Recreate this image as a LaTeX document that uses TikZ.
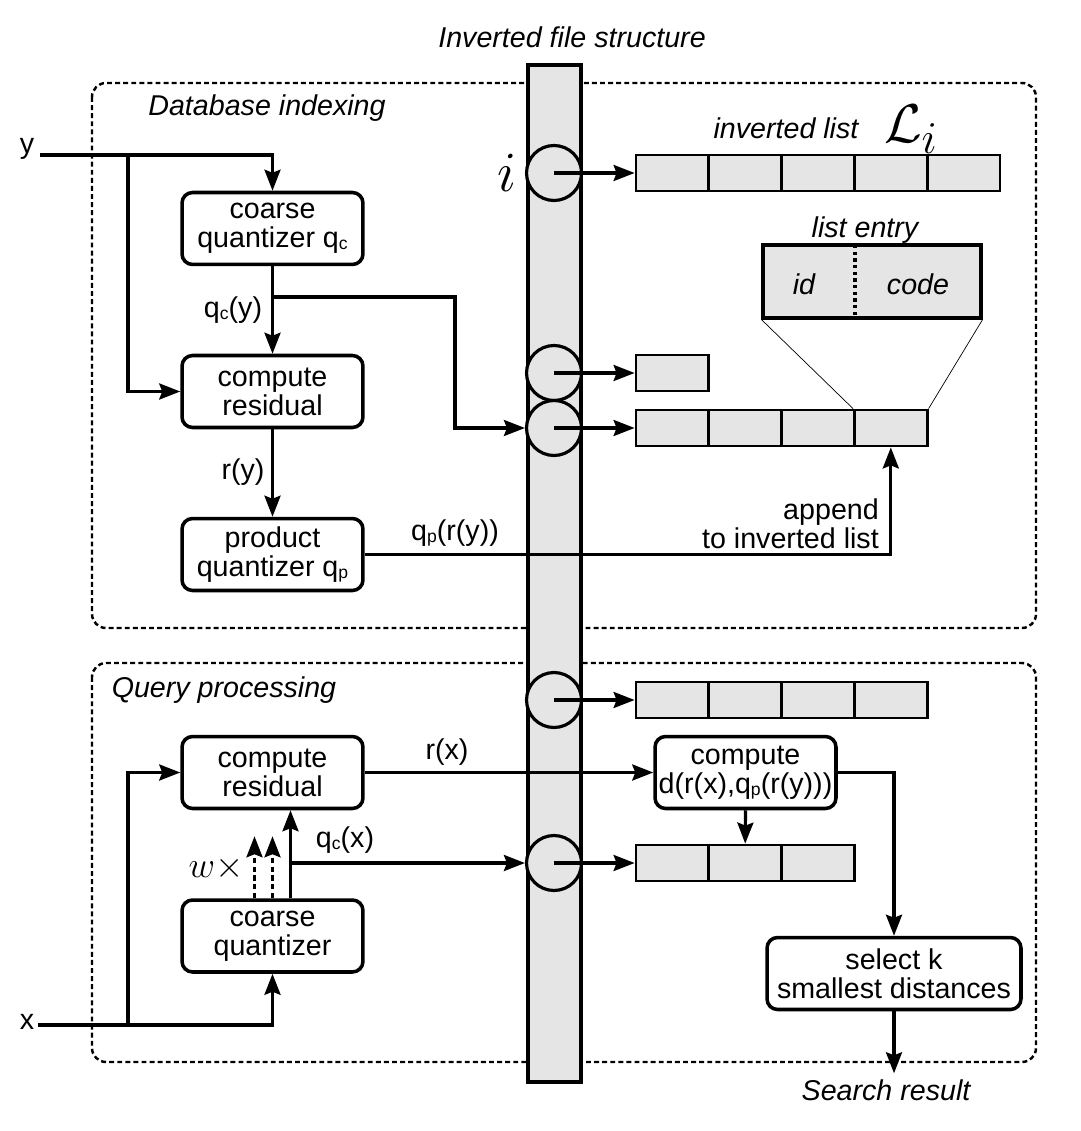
\documentclass[tikz,border=0pt]{standalone}
\usepackage{fontspec}
\setmainfont{Liberation Sans}
\usetikzlibrary{arrows.meta}
\newcommand{\smallsub}[1]{\raisebox{-1pt}{\fontsize{10}{10}\selectfont #1}}
\tikzset{
  box/.style={draw, line width=2pt, rounded corners=6pt, minimum width=3.62cm, minimum height=1.44cm, align=center, inner sep=0pt},
  cell/.style={draw, line width=1.6pt, fill=gray!20, minimum width=1.456cm, minimum height=0.72cm, inner sep=0pt},
  slot/.style={circle, draw, line width=1.8pt, fill=gray!20, minimum size=1.1cm, inner sep=0pt},
  flow/.style={line width=1.8pt, -{Stealth[length=0.42cm, width=0.32cm, inset=0.06cm]}},
  region/.style={line width=1.4pt, dash pattern=on 2.8pt off 1.8pt, rounded corners=8pt},
  title/.style={font=\fontsize{16.3}{17}\selectfont\itshape}
}
\begin{document}
\begin{tikzpicture}[x=0.02cm, y=-0.02cm, font=\fontsize{16.3}{16.6}\selectfont]
\useasboundingbox (0,0) rectangle (1080,1131);
% the two stages
\draw[region] (92,83) rectangle (1036,628);
\draw[region] (92,663) rectangle (1036,1062);
\node[title] (dbtitle) at (267,108) {Database indexing};
\node[title] (qptitle) at (224,690) {Query processing};

% inverted file and its lists
\draw[line width=1.8pt, fill=gray!20] (528,65) rectangle (581,1082);
\node[title] (iftitle) at (572,37) {Inverted file structure};
\foreach \n/\y/\k in {1/173/5, 2/373/1, 3/428/4, 4/700/4, 5/863/3} {
  \node[slot] (s\n) at (554,\y) {};
  \foreach \c in {1,...,\k}
    \node[cell] (l\n-\c) at ({636+72.8*(\c-0.5)},\y) {};
  \draw[flow] (s\n.center) -- (l\n-1.west);
}
\node (ilbl) at (507,173) {\scalebox{1.3}{\fontsize{24.88}{25}\selectfont$i$}};
\node[title] (ltitle) at (786,128) {inverted list};
\node (lsym) at (911,129) {\scalebox{1.25}{\fontsize{24.88}{25}\selectfont$\mathcal{L}_i$}};
\node[title] (etitle) at (865,230) {list entry};
\node[draw, line width=1.8pt, fill=gray!20, minimum width=4.36cm, minimum height=1.46cm, inner sep=0pt] (ent) at (872,281.5) {};
\draw[line width=1.8pt, dotted] (855,245) -- (855,318);
\node[title] (idlbl) at (804,284) {id};
\node[title] (codelbl) at (918,284) {code};
\draw[thin] (ent.south west) -- (l3-4.north west);
\draw[thin] (ent.south east) -- (l3-4.north east);

% database indexing
\node[box] (cq) at (272.5,228.5) {coarse\\quantizer q\smallsub{c}};
\node[box] (cr) at (272.5,391.5) {compute\\residual};
\node[box] (pq) at (272.5,554.5) {product\\quantizer q\smallsub{p}};
\node (yin) at (27,149) {y};
\coordinate (ystart) at (40,155);
\coordinate (ysplit) at (128,155);
\draw[flow] (ystart) -| (cq.north);
\draw[flow] (ysplit) |- (cr.west);
\draw[flow] (cq.south) -- (cr.north);
\coordinate (qcy) at (272.5,297);
\coordinate (qcbend) at (455,428);
\draw[flow] (qcy) -| (qcbend) -- (s3.west);
\draw[flow] (cr.south) -- (pq.north);
\draw[flow] (pq.east) -| (l3-4.south);
\node (qcylbl) at (233,310) {q\smallsub{c}(y)};
\node (rylbl) at (243,472) {r(y)};
\node (qprylbl) at (455,533) {q\smallsub{p}(r(y))};
\node[align=right, anchor=east] (applbl) at (885,524) {append\\to inverted list};

% query processing
\node[box] (cr2) at (272.5,772.5) {compute\\residual};
\node[box] (cq2) at (272.5,936) {coarse\\quantizer};
\node[box] (cd) at (745.5,772.5) {compute\\d(r(x),q\smallsub{p}(r(y)))};
\node[box, minimum width=5.08cm] (sel) at (894,973.5) {select k\\smallest distances};
\node (xin) at (27,1022) {x};
\coordinate (xstart) at (38,1025);
\coordinate (xsplit) at (128,1025);
\draw[flow] (xstart) -| (cq2.south);
\draw[flow] (xsplit) |- (cr2.west);
\draw[flow] ([xshift=0.36cm]cq2.north) -- ([xshift=0.36cm]cr2.south);
\foreach \dx in {-0.36,0}
  \draw[flow, dash pattern=on 3pt off 2pt] ([xshift=\dx cm]cq2.north) -- ++(0,-62);
\coordinate (qcx) at (290.5,863);
\draw[flow] (qcx) -- (s5.west);
\draw[flow] (cr2.east) -- (cd.west);
\node (rxlbl) at (447,752) {r(x)};
\node (qcxlbl) at (345,840) {q\smallsub{c}(x)};
\node (wlbl) at (216,868) {\fontsize{20}{20}\selectfont$w\times$};
\draw[flow] (cd.south) -- (l5-2.north);
\draw[flow] (cd.east) -| (sel.north);
\node[title] (res) at (886,1090) {Search result};
\draw[flow] (sel.south) -- (sel.south |- res.north);
\end{tikzpicture}
\end{document}
